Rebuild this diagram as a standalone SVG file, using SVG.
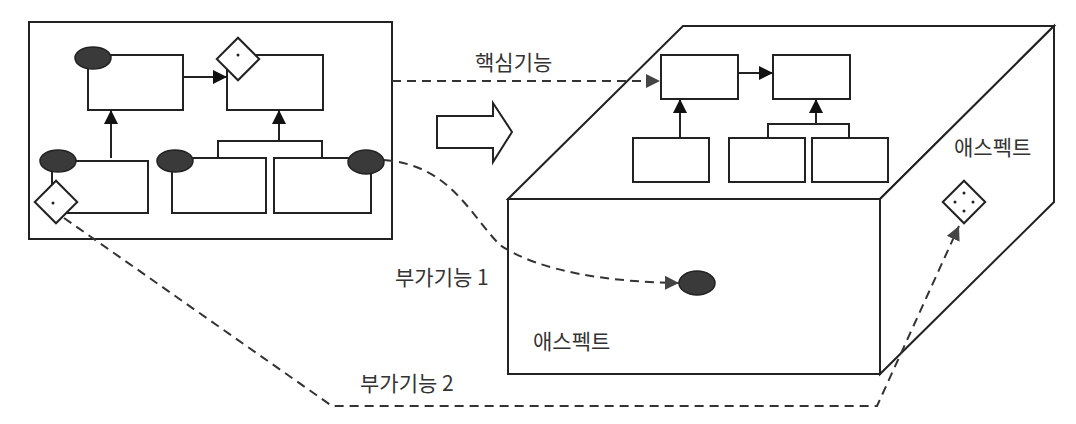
<svg xmlns="http://www.w3.org/2000/svg" width="1076" height="424" viewBox="0 0 1076 424">
<style>
.b{fill:#fff;stroke:#222;stroke-width:2}
.l{fill:none;stroke:#222;stroke-width:2}
.e{fill:#3a3a3a;stroke:#222;stroke-width:1.5}
.d{fill:none;stroke:#333;stroke-width:2;stroke-dasharray:9,6}
.dot{fill:#222}
text{font-family:"Noto Sans CJK KR","Noto Sans",sans-serif;font-size:21px;fill:#333}
</style>
<defs>
<marker id="s" viewBox="0 0 10 10" refX="10" refY="5" markerWidth="14" markerHeight="14" orient="auto" markerUnits="userSpaceOnUse"><path d="M0,0L10,5L0,10z" fill="#111"/></marker>
<marker id="da" viewBox="0 0 10 10" refX="10" refY="5" markerWidth="14" markerHeight="14" orient="auto" markerUnits="userSpaceOnUse"><path d="M0,0L10,5L0,10z" fill="#444"/></marker>
</defs>
<g id="left-panel">
<rect class="b" x="29" y="22" width="363" height="217"/>
<g id="boxA"><rect class="b" x="88" y="55" width="95" height="55"/><ellipse class="e" cx="93" cy="58" rx="18" ry="11"/></g>
<g id="boxB"><rect class="b" x="227" y="55" width="96" height="55"/><rect class="b" x="223" y="44" width="30" height="30" transform="rotate(45 238 59)"/><circle class="dot" cx="238" cy="55" r="1.5"/></g>
<g id="boxC"><rect class="b" x="52" y="161" width="96" height="52"/><ellipse class="e" cx="58" cy="161" rx="18" ry="11"/><rect class="b" x="41" y="187" width="30" height="30" transform="rotate(45 56 202)"/><circle class="dot" cx="53" cy="203" r="1.5"/></g>
<g id="boxD"><rect class="b" x="172" y="158" width="94" height="55"/><ellipse class="e" cx="175" cy="161" rx="18" ry="11"/></g>
<g id="boxE"><rect class="b" x="274" y="158" width="97" height="55"/><ellipse class="e" cx="366" cy="162" rx="18" ry="12"/></g>
</g>
<g id="cube">
<polygon class="b" points="508,199 683,26 1054,26 880,199"/>
<polygon class="b" points="880,199 1054,26 1054,202 880,374"/>
<rect class="b" x="508" y="199" width="372" height="175"/>
<g id="R1"><rect class="b" x="661" y="55" width="77" height="44"/></g>
<g id="R2"><rect class="b" x="773" y="55" width="77" height="44"/></g>
<g id="R3"><rect class="b" x="633" y="138" width="76" height="44"/></g>
<g id="R4"><rect class="b" x="729" y="138" width="76" height="44"/></g>
<g id="R5"><rect class="b" x="812" y="138" width="76" height="44"/></g>
<g id="aspect-dot"><ellipse class="e" cx="697" cy="283" rx="18" ry="12"/></g>
<g id="aspect-diamond"><rect class="b" x="949" y="187" width="30" height="30" transform="rotate(45 964 202)"/><circle class="dot" cx="964" cy="193" r="1.5"/><circle class="dot" cx="964" cy="211" r="1.5"/><circle class="dot" cx="955" cy="202" r="1.5"/><circle class="dot" cx="973" cy="202" r="1.5"/></g>
</g>
<g id="big-arrow"><polygon class="b" points="437,116 493,116 493,103 512,132 493,162 493,148 437,148"/></g>
<g id="connectors">
<line class="l" x1="183" y1="77" x2="227" y2="77" marker-end="url(#s)"/>
<line class="l" x1="111" y1="158" x2="111" y2="110" marker-end="url(#s)"/>
<polyline class="l" points="218,158 218,141 322,141 322,158"/>
<line class="l" x1="279" y1="141" x2="279" y2="110" marker-end="url(#s)"/>
<line class="l" x1="738" y1="73" x2="773" y2="73" marker-end="url(#s)"/>
<line class="l" x1="680" y1="138" x2="680" y2="99" marker-end="url(#s)"/>
<polyline class="l" points="768,138 768,124 849,124 849,138"/>
<line class="l" x1="816" y1="124" x2="816" y2="99" marker-end="url(#s)"/>
<line class="d" x1="392" y1="81" x2="660" y2="81" marker-end="url(#da)"/>
<path class="d" d="M384,160 C450,165 470,215 500,245 C540,272 610,282 679,283" marker-end="url(#da)"/>
<polyline class="d" points="64,218 332,406 877,406 959,226" marker-end="url(#da)"/>
</g>
<g id="labels">
<text x="475" y="70">핵심기능</text>
<text x="395" y="285">부가기능 1</text>
<text x="360" y="391">부가기능 2</text>
<text x="533" y="349">애스펙트</text>
<text x="954" y="155">애스펙트</text>
</g>
</svg>
